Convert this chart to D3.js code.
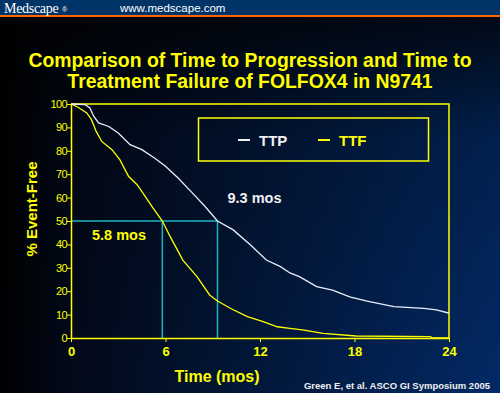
<!DOCTYPE html>
<html>
<head>
<meta charset="utf-8">
<script src="https://cdn.jsdelivr.net/npm/d3@7"></script>
<style>
  body { margin: 0; background: #000; }
  svg { display: block; }
</style>
</head>
<body>
<div id="chart-area"></div>
<script>
// Kaplan-Meier curves
var ttpMonths = [0, 0.9, 1.2, 1.45, 1.75, 2.4, 3.0, 3.75, 4.5, 5.3, 6.0, 6.8, 7.7, 8.5, 9.3, 10.3, 11.4, 12.4, 13.3, 13.9, 14.5, 15.6, 16.6, 17.7, 18.8, 20.5, 22.4, 23.2, 23.9, 24];
var ttpPct = [100, 99.7, 98.3, 94.7, 91.9, 90.4, 87.6, 82.6, 80.5, 76.9, 73.4, 68.4, 62, 56.3, 50, 46.2, 39.7, 33.3, 30.5, 27.8, 26.2, 22, 20.5, 17.6, 15.8, 13.4, 12.7, 12, 10.8, 10.8];
var ttfMonths = [0, 0.45, 1.0, 1.3, 1.6, 1.95, 2.6, 3.1, 3.65, 4.2, 4.7, 5.2, 5.8, 6.3, 7.1, 8.0, 8.8, 9.3, 10.2, 11.2, 12.2, 13.1, 13.9, 14.8, 16.0, 18.1, 22.8, 23.0, 24];
var ttfPct = [100, 98.6, 96.2, 93.3, 88.3, 84, 80.5, 76.2, 69.1, 65.5, 60.6, 55.6, 50, 43.3, 33.3, 26.2, 18.4, 15.8, 12.4, 9.1, 7, 4.8, 4.1, 3.4, 2, 0.85, 0.55, 0, 0];
var medians = [5.8, 9.3];
var xTicks = [0, 6, 12, 18, 24];
var yTicks = [0, 10, 20, 30, 40, 50, 60, 70, 80, 90, 100];

var W = 500, H = 393;
var margin = { left: 71, right: 51, top: 104, bottom: 55 };
var width = W - margin.left - margin.right,
    height = H - margin.top - margin.bottom;
var yellow = "#ffff00", cyan = "#1fb5c0";

var svg = d3.select("#chart-area")
    .append("svg")
    .attr("width", W)
    .attr("height", H);

var defs = svg.append("defs");
var bg = defs.append("linearGradient").attr("id", "bgH")
    .attr("x1", 0).attr("x2", 1).attr("y1", 0).attr("y2", 0);
bg.append("stop").attr("offset", "0%").attr("stop-color", "#000000");
bg.append("stop").attr("offset", "12%").attr("stop-color", "#020817");
bg.append("stop").attr("offset", "100%").attr("stop-color", "#022a66");
var vg = defs.append("linearGradient").attr("id", "bgV")
    .attr("x1", 0).attr("x2", 0).attr("y1", 0).attr("y2", 1);
vg.append("stop").attr("offset", "0%").attr("stop-color", "#000").attr("stop-opacity", 0.85);
vg.append("stop").attr("offset", "35%").attr("stop-color", "#000").attr("stop-opacity", 0.25);
vg.append("stop").attr("offset", "100%").attr("stop-color", "#000").attr("stop-opacity", 0);

svg.append("rect").attr("width", W).attr("height", H).attr("fill", "url(#bgH)");
svg.append("rect").attr("width", W).attr("height", H).attr("fill", "url(#bgV)");

// header bar
svg.append("rect").attr("width", W).attr("height", 15).attr("fill", "#003366");
svg.append("rect").attr("y", 15).attr("width", W).attr("height", 2).attr("fill", "#ff6600");
svg.append("text")
    .attr("x", 4).attr("y", 12.5)
    .attr("font-family", "Liberation Serif, serif")
    .attr("font-size", "14px")
    .attr("letter-spacing", "-0.3")
    .attr("fill", "#fff")
    .text("Medscape");
svg.append("text")
    .attr("x", 62).attr("y", 11.5)
    .attr("font-family", "Liberation Sans, sans-serif")
    .attr("font-size", "7px")
    .attr("fill", "#fff")
    .text("®");
svg.append("text")
    .attr("x", 120).attr("y", 12)
    .attr("font-family", "Liberation Sans, Arial, sans-serif")
    .attr("font-size", "11.5px")
    .attr("fill", "#fff")
    .text("www.medscape.com");

// title
var title = svg.append("text")
    .attr("text-anchor", "middle")
    .attr("font-family", "Liberation Sans, Arial, sans-serif")
    .attr("font-weight", "bold")
    .attr("font-size", "19.4px")
    .attr("fill", yellow)
    .attr("stroke", "#000")
    .attr("stroke-width", 0.6)
    .attr("paint-order", "stroke");
title.append("tspan").attr("x", 250).attr("y", 67).text("Comparison of Time to Progression and Time to");
title.append("tspan").attr("x", 250).attr("y", 88).text("Treatment Failure of FOLFOX4 in N9741");

var g = svg.append("g")
    .attr("transform", "translate(" + margin.left + ", " + margin.top + ")");

var x = d3.scaleLinear().domain([0, 24]).range([0, width]);
var y = d3.scaleLinear().domain([0, 100]).range([height, 0]);

// frame top & right
g.append("path")
    .attr("d", "M0,0H" + width + "V" + height)
    .attr("fill", "none")
    .attr("stroke", yellow)
    .attr("stroke-width", 1.5);

// median guides
g.append("line")
    .attr("x1", x(0)).attr("x2", x(medians[1]))
    .attr("y1", y(50)).attr("y2", y(50))
    .attr("stroke", cyan).attr("stroke-width", 1.5);
medians.forEach(function (m) {
    g.append("line")
        .attr("x1", x(m)).attr("x2", x(m))
        .attr("y1", y(50)).attr("y2", y(0))
        .attr("stroke", cyan).attr("stroke-width", 1.5);
});

var line = d3.line()
    .x(function (d) { return x(d[0]) })
    .y(function (d) { return y(d[1]) });

g.append("path")
    .datum(d3.zip(ttfMonths, ttfPct))
    .attr("d", line)
    .attr("fill", "none")
    .attr("stroke", yellow)
    .attr("stroke-width", 1.3);

g.append("path")
    .datum(d3.zip(ttpMonths, ttpPct))
    .attr("d", line)
    .attr("fill", "none")
    .attr("stroke", "#e8eef8")
    .attr("stroke-width", 1.3);

// axes
var xG = g.append("g")
    .attr("transform", "translate(0, " + height + ")")
    .call(d3.axisBottom(x).tickValues(xTicks).tickSize(4).tickSizeOuter(0));
xG.selectAll("text")
    .attr("y", 9)
    .attr("font-family", "Liberation Sans, Arial, sans-serif")
    .attr("font-weight", "bold")
    .attr("font-size", "13px")
    .attr("fill", yellow);

var yG = g.append("g")
    .call(d3.axisLeft(y).tickValues(yTicks).tickSize(4).tickSizeOuter(0));
yG.selectAll("text")
    .attr("x", -4)
    .attr("font-family", "Liberation Sans Narrow, Liberation Sans, Arial, sans-serif")
    .attr("font-size", "11px")
    .attr("letter-spacing", "-0.6")
    .attr("fill", yellow);

[xG, yG].forEach(function (a) {
    a.select(".domain").attr("stroke", yellow).attr("stroke-width", 1.5);
    a.selectAll(".tick line").attr("stroke", yellow);
});

// axis labels
g.append("text")
    .attr("x", x(12) - 43).attr("y", height + 44)
    .attr("text-anchor", "middle")
    .attr("font-family", "Liberation Sans, Arial, sans-serif")
    .attr("font-weight", "bold")
    .attr("font-size", "16px")
    .attr("fill", yellow)
    .text("Time (mos)");

g.append("text")
    .attr("transform", "rotate(-90)")
    .attr("x", -(height / 2) + 12).attr("y", -34)
    .attr("text-anchor", "middle")
    .attr("font-family", "Liberation Sans, Arial, sans-serif")
    .attr("font-weight", "bold")
    .attr("font-size", "15px")
    .attr("fill", yellow)
    .text("% Event-Free");

// median labels
g.append("text")
    .attr("x", x(9.3) + 10).attr("y", y(57.5))
    .attr("font-family", "Liberation Sans, Arial, sans-serif")
    .attr("font-weight", "bold")
    .attr("font-size", "14.5px")
    .attr("fill", "#f0f0f0")
    .text("9.3 mos");
g.append("text")
    .attr("x", x(0) + 21).attr("y", y(42))
    .attr("font-family", "Liberation Sans, Arial, sans-serif")
    .attr("font-weight", "bold")
    .attr("font-size", "14.5px")
    .attr("fill", yellow)
    .text("5.8 mos");

// legend
var leg = svg.append("g");
leg.append("rect")
    .attr("x", 198.5).attr("y", 118)
    .attr("width", 230).attr("height", 43)
    .attr("fill", "none")
    .attr("stroke", yellow)
    .attr("stroke-width", 1.5);
var legItems = [
    { name: "TTP", color: "#f0f0f0", x: 238 },
    { name: "TTF", color: yellow, x: 318 }
];
legItems.forEach(function (d) {
    leg.append("line")
        .attr("x1", d.x).attr("x2", d.x + 12)
        .attr("y1", 140).attr("y2", 140)
        .attr("stroke", d.color).attr("stroke-width", 2);
    leg.append("text")
        .attr("x", d.x + 21).attr("y", 145.5)
        .attr("font-family", "Liberation Sans, Arial, sans-serif")
        .attr("font-weight", "bold")
        .attr("font-size", "15px")
        .attr("fill", d.color)
        .text(d.name);
});

// source
svg.append("text")
    .attr("x", 490).attr("y", 389)
    .attr("text-anchor", "end")
    .attr("font-family", "Liberation Sans, Arial, sans-serif")
    .attr("font-weight", "bold")
    .attr("font-size", "9.5px")
    .attr("fill", "#f0f0f0")
    .text("Green E, et al. ASCO GI Symposium 2005");
</script>
</body>
</html>
